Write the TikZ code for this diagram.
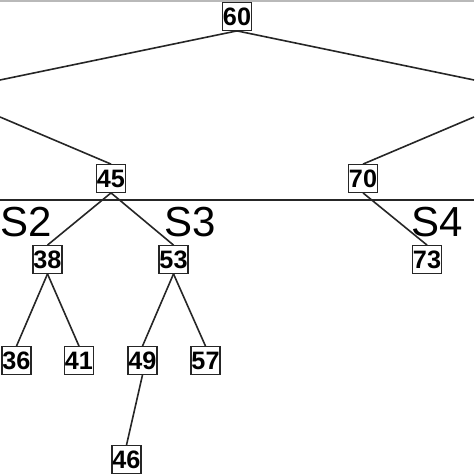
\documentclass[tikz,border=0pt]{standalone}
\usepackage{fontspec}
\setmainfont{Liberation Sans}
\usetikzlibrary{positioning}

\begin{document}
\begin{tikzpicture}[
                x=0.5pt, y=-0.5pt,
                key/.style={draw=black!85, semithick, rectangle, fill=white, minimum width=14.5pt, minimum height=13.8pt, inner sep=0pt, font=\fontsize{12.6}{13}\selectfont\bfseries},
                edge/.style={thick, black!85},
                sublabel/.style={font=\fontsize{21}{22}\selectfont, inner sep=0pt}
            ]
            \useasboundingbox (0,0) rectangle (474,474);
            \fill[gray!55] (0,0) rectangle (474,2.5);

            % Knoten
            \node[key] (n60) at (237,16.5) {60};
            \node[key] (n45) at (111,178.5) {45};
            \node[key] (n70) at (363,178.5) {70};
            \node[key] (n38) at (47.5,259.5) {38};
            \node[key] (n53) at (173.5,259.5) {53};
            \node[key] (n73) at (427,259.5) {73};
            \node[key] (n36) at (16.5,360.5) {36};
            \node[key] (n41) at (79,360.5) {41};
            \node[key] (n49) at (142.5,360.5) {49};
            \node[key] (n57) at (205.5,360.5) {57};
            \node[key] (n46) at (126.5,459.5) {46};

            % Bereiche
            \node[sublabel, anchor=west] (s2) at (0.5,222) {S2};
            \node[sublabel] (s3) at (190.5,222) {S3};
            \node[sublabel] (s4) at (437.5,222) {S4};

            % Randpunkte
            \coordinate (lftA) at (0,80);
            \coordinate (rgtA) at (474,80);
            \coordinate (lftB) at (0,117);
            \coordinate (rgtB) at (474,117);
            \coordinate (sepL) at (0,200);
            \coordinate (sepR) at (474,200);

            % Kanten
            \draw[edge] (sepL) -- (sepR);
            \draw[edge] (n60.south) -- (lftA);
            \draw[edge] (n60.south) -- (rgtA);
            \draw[edge] (lftB) -- (n45.north);
            \draw[edge] (rgtB) -- (n70.north);
            \draw[edge] (n45.south) -- (n38.north);
            \draw[edge] (n45.south) -- (n53.north);
            \draw[edge] (n70.south) -- (n73.north);
            \draw[edge] (n38.south) -- (n36.north);
            \draw[edge] (n38.south) -- (n41.north);
            \draw[edge] (n53.south) -- (n49.north);
            \draw[edge] (n53.south) -- (n57.north);
            \draw[edge] (n49.south) -- (n46.north);

            % Knoten ueber den Linien
            \node[key] at (n45) {45};
            \node[key] at (n70) {70};

\end{tikzpicture}
\end{document}
